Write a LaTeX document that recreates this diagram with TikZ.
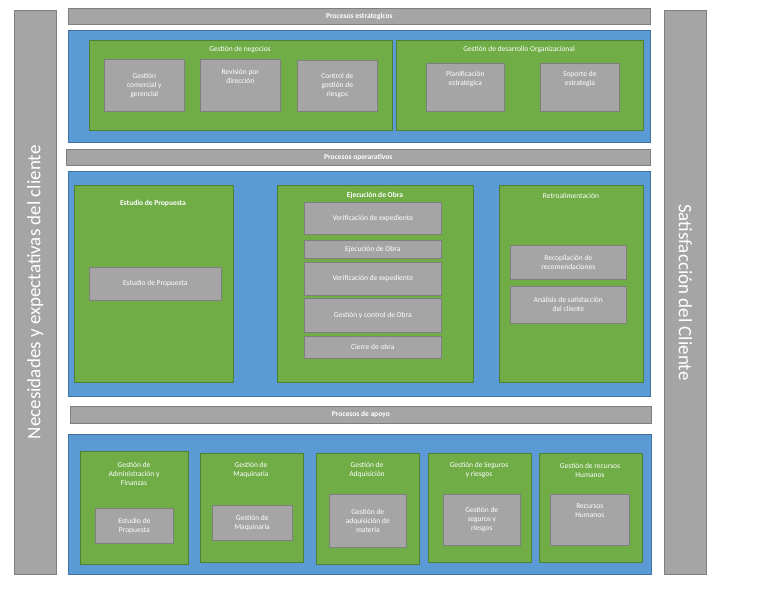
\documentclass[tikz,border=0pt]{standalone}
\usepackage{fontspec}
\setmainfont{Carlito}
\definecolor{gb}{HTML}{A5A5A5}\definecolor{gbd}{HTML}{7F7F7F}
\definecolor{bl}{HTML}{5B9BD5}\definecolor{bld}{HTML}{41719C}
\definecolor{gr}{HTML}{70AD47}\definecolor{grd}{HTML}{507E32}
\tikzset{
 base/.style={anchor=north west,inner sep=1pt,text=white,align=center,font=\fontsize{7.5}{9}\selectfont,line width=0.6pt},
 gray/.style={base,fill=gb,draw=gbd},
 blue/.style={base,fill=bl,draw=bld},
 green/.style={base,fill=gr,draw=grd},
 bar/.style={gray,font=\bfseries\fontsize{7.5}{9}\selectfont},
 ttl/.style={text=white,align=center,font=\fontsize{7.5}{9}\selectfont,inner sep=0pt},
}
\newcommand\bx[6]{\node[#1,minimum width=#4pt-#2pt,minimum height=#5pt-#3pt] (#6) at (#2,#3) {};}
\newcommand\bt[7]{\node[#1,minimum width=#4pt-#2pt,minimum height=#5pt-#3pt] (#6) at (#2,#3) {#7};}
\begin{document}
\begin{tikzpicture}[x=1pt,y=-1pt]
\useasboundingbox (0,0) rectangle (768,594);
\bx{gray}{14}{10}{56}{574}{L}
\node[rotate=90,text=white,font=\fontsize{19}{22}\selectfont] (Lt) at (L.center) {Necesidades y expectativas del cliente};
\bx{gray}{664}{10}{706}{574}{R}
\node[rotate=-90,text=white,font=\fontsize{19}{22}\selectfont] (Rt) at (R.center) {Satisfacción del Cliente};
% estrategicos
\bt{bar}{68}{8}{650}{24}{b1}{Procesos estrategicos}
\bx{blue}{68}{30}{650}{142}{B1}
\bx{green}{89}{40}{392}{130}{G1}
\node[ttl] (G1t) at (240,50) {Gestión de negocios};
\bt{gray}{104}{59}{184}{111}{a1}{Gestión\\comercial y\\gerencial}
\bt{gray}{200}{59}{280}{111}{a2}{Revisión por\\dirección\\[9pt]}
\bt{gray}{297}{60}{377}{111}{a3}{Control de\\gestión de\\riesgos}
\bx{green}{396}{40}{643}{130}{G2}
\node[ttl] (G2t) at (519,50) {Gestión de desarrollo Organizacional};
\bt{gray}{426}{63}{504}{111}{a4}{Planificación\\estratégica\\[9pt]}
\bt{gray}{540}{63}{619}{111}{a5}{Soporte de\\estrategia\\[9pt]}
% operativos
\bt{bar}{66}{149}{650}{165}{b2}{Procesos operarativos}
\bx{blue}{68}{171}{650}{396}{B2}
\bx{green}{74}{185}{233}{382}{G3}
\node[ttl,font=\bfseries\fontsize{7.5}{9}\selectfont] (G3t) at (153,203) {Estudio de Propuesta};
\bt{gray}{89}{267}{221}{300}{c1}{Estudio de Propuesta}
\bx{green}{277}{185}{473}{382}{G4}
\node[ttl,font=\bfseries\fontsize{7.5}{9}\selectfont] (G4t) at (375,196) {Ejecución de Obra};
\bt{gray}{304}{202}{441}{234}{d1}{Verificación de expediente}
\bt{gray}{304}{240}{441}{258}{d2}{Ejecución de Obra}
\bt{gray}{304}{262}{441}{295}{d3}{Verificación de expediente}
\bt{gray}{304}{298}{441}{332}{d4}{Gestión y control de Obra}
\bt{gray}{304}{336}{441}{358}{d5}{Cierre de obra}
\bx{green}{499}{185}{643}{382}{G5}
\node[ttl] (G5t) at (571,196) {Retroalimentación};
\bt{gray}{510}{245}{626}{279}{e1}{Recopilación de\\recomendaciones}
\bt{gray}{510}{286}{626}{323}{e2}{Análisis de satisfacción\\del cliente}
% apoyo
\bt{bar}{70}{406}{651}{423}{b3}{Procesos de apoyo}
\bx{blue}{68}{434}{651}{574}{B3}
\bx{green}{80}{451}{188}{564}{H1}
\node[ttl] (H1t) at (134,474) {Gestión de\\Administración y\\Finanzas};
\bt{gray}{95}{508}{173}{543}{f1}{Estudio de\\Propuesta}
\bx{green}{200}{453}{303}{562}{H2}
\node[ttl] (H2t) at (251,470) {Gestión de\\Maquinaria};
\bt{gray}{212}{505}{292}{540}{f2}{Gestión de\\Maquinaria}
\bx{green}{316}{453}{419}{564}{H3}
\node[ttl] (H3t) at (367,470) {Gestión de\\Adquisición};
\bt{gray}{329}{494}{406}{547}{f3}{Gestión de\\adquisición de\\materia}
\bx{green}{428}{453}{531}{562}{H4}
\node[ttl] (H4t) at (479,470) {Gestión de Seguros\\y riesgos};
\bt{gray}{443}{494}{520}{545}{f4}{Gestión de\\seguros y\\riesgos}
\bx{green}{539}{453}{642}{562}{H5}
\node[ttl] (H5t) at (590,470) {Gestión de recursos\\Humanos};
\bt{gray}{550}{494}{629}{545}{f5}{Recursos\\Humanos\\[9pt]}
\end{tikzpicture}
\end{document}
